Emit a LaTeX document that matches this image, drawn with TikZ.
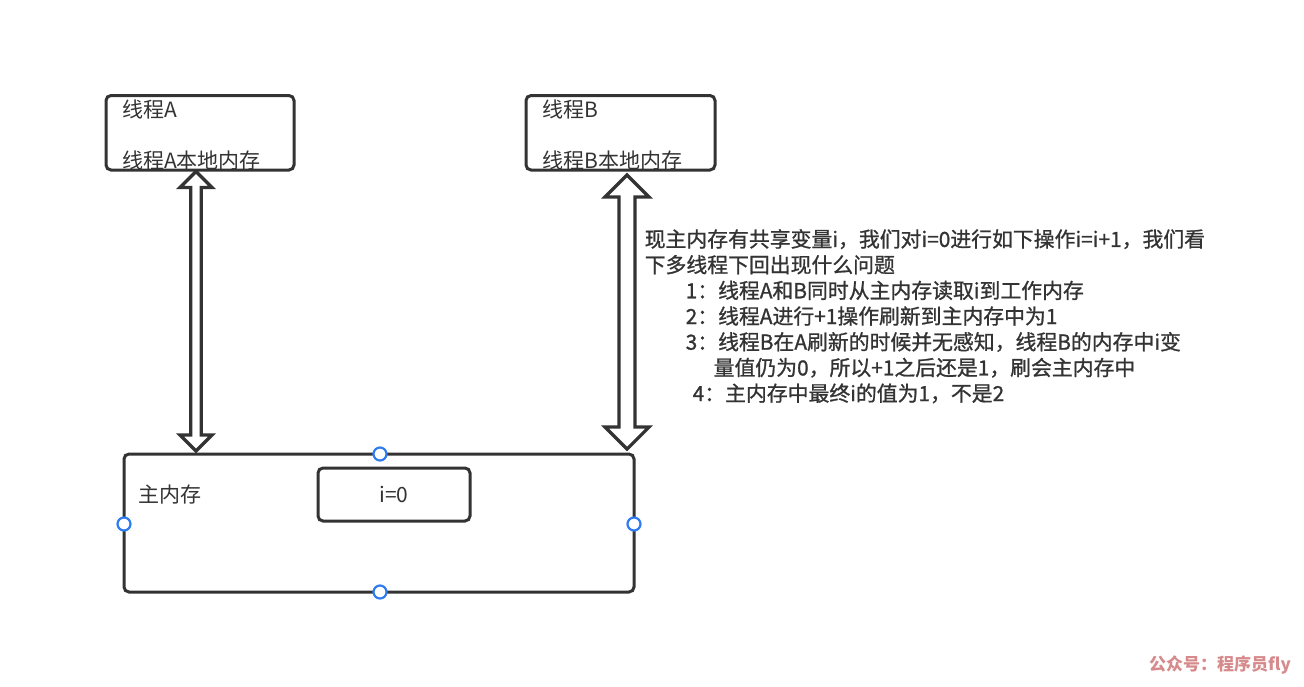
\documentclass[tikz,border=0pt]{standalone}
\usepackage{fontspec}
\setmainfont{Noto Sans CJK SC}
\newfontfamily\cjkmed[FakeBold=1.0]{Noto Sans CJK SC}
\definecolor{ink}{HTML}{333333}
\definecolor{handleblue}{HTML}{2F7CF0}
\definecolor{wm}{HTML}{D68A8C}
\usetikzlibrary{calc}
\tikzset{
  box/.style={draw=ink,line width=3pt,rounded corners=5pt,fill=white,inner sep=0pt,outer sep=0pt,anchor=north west},
  lbl/.style={text=ink,inner sep=0pt,align=left,font=\fontsize{21}{25.6}\selectfont},
  handle/.style={circle,draw=handleblue,fill=white,line width=2.2pt,minimum size=13pt,inner sep=0pt},
  hollow/.style n args={3}{draw=ink,fill=white,line width=3.2pt,line join=miter,
    to path={
      -- ($(\tikztostart)+(#1,#2)$) -- ($(\tikztostart)+(#3,#2)$)
      -- ($(\tikztotarget)+(#3,-#2)$) -- ($(\tikztotarget)+(#1,-#2)$)
      -- (\tikztotarget)
      -- ($(\tikztotarget)+(-#1,-#2)$) -- ($(\tikztotarget)+(-#3,-#2)$)
      -- ($(\tikztostart)+(-#3,#2)$) -- ($(\tikztostart)+(-#1,#2)$) -- cycle
    }},
}
\begin{document}
\begin{tikzpicture}[x=1pt,y=-1pt]
\useasboundingbox (0,0) rectangle (1304,686);
\node[box,minimum width=188pt,minimum height=74.5pt] (A) at (106,95.5) {};
\node[box,minimum width=189pt,minimum height=74.5pt] (B) at (526,95.5) {};
\node[box,minimum width=510pt,minimum height=138pt] (M) at (124,454) {};
\node[box,minimum width=152pt,minimum height=53pt] (V) at (318,468) {};
\coordinate (Atip) at (196,171.5);
\coordinate (Abot) at (196,451);
\coordinate (Btip) at (627,175);
\coordinate (Bbot) at (627,449);
\draw[hollow={16}{16}{5.2}] (Atip) to (Abot);
\draw[hollow={22}{22}{8}] (Btip) to (Bbot);
\node[lbl,anchor=north west] (At) at (122,99.5) {线程A\\\mbox{}\\线程A本地内存};
\node[lbl,anchor=north west] (Bt) at (542,99.5) {线程B\\\mbox{}\\线程B本地内存};
\node[lbl,anchor=west] (Mt) at (138,495) {主内存};
\node[lbl,anchor=center] (Vt) at (394,494) {i=0};
\node[handle] (h1) at (380,454) {};
\node[handle] (h2) at (124,524) {};
\node[handle] (h3) at (634,524) {};
\node[handle] (h4) at (380,592) {};
\node[lbl,anchor=north west,font=\cjkmed\fontsize{20.85}{25.7}\selectfont] (note) at (644.5,229) {现主内存有共享变量i，我们对i=0进行如下操作i=i+1，我们看\\
下多线程下回出现什么问题\\
\hspace*{41pt}1：线程A和B同时从主内存读取i到工作内存\\
\hspace*{41pt}2：线程A进行+1操作刷新到主内存中为1\\
\hspace*{41pt}3：线程B在A刷新的时候并无感知，线程B的内存中i变\\
\hspace*{69pt}量值仍为0，所以+1之后还是1，刷会主内存中\\
\hspace*{48pt}4：主内存中最终i的值为1，不是2};
\node[anchor=east,inner sep=0pt,text=wm,font=\bfseries\fontsize{17}{20}\selectfont] (wm) at (1291,665) {公众号：程序员fly};
\end{tikzpicture}
\end{document}
